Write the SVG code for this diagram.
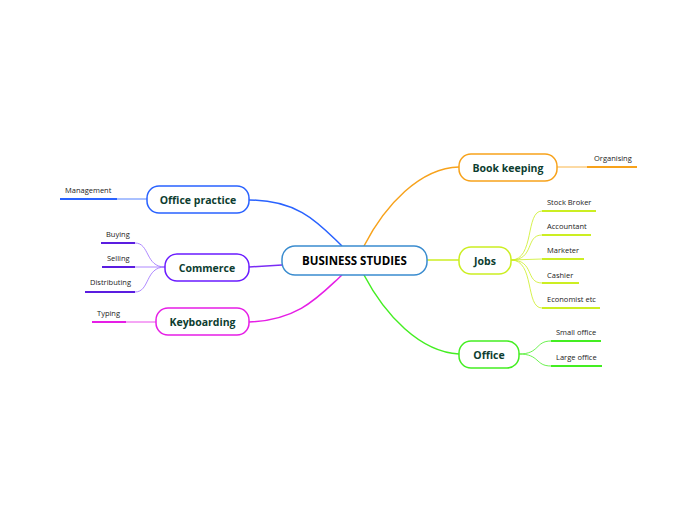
<svg xmlns="http://www.w3.org/2000/svg" width="697" height="520" viewBox="0 0 697 520">
<style>
.n{fill:#fff;stroke-width:1.5}
.t{font-family:"Open Sans","Noto Sans",sans-serif;font-weight:bold;font-size:10.5px;fill:#0d3d30;text-anchor:middle}
.l{font-family:"Open Sans","Noto Sans",sans-serif;font-size:7.5px;fill:#222}
.c{fill:none;stroke-width:1.5}
.s{fill:none;stroke-width:0.8}
.u{stroke-width:2}
</style>
<rect width="697" height="520" fill="#fff"/>
<g id="connectors">
<path class="c" stroke="#2962ff" d="M249 200 C300 200 320 225 342 246"/>
<path class="c" stroke="#7a2cf5" d="M249 267 L282 265"/>
<path class="c" stroke="#e61ee6" d="M249 322 C300 320 320 295 342 275"/>
<path class="c" stroke="#f7a21b" d="M364 246 C385 205 420 168 459 167"/>
<path class="c" stroke="#ccee22" d="M427 260 L459 260"/>
<path class="c" stroke="#44ee22" d="M364 275 C385 315 420 352 459 354"/>
<path class="s" stroke="#2962ff" d="M117 199 L147 199"/>
<path class="s" stroke="#9a6bff" d="M135 243 C150 243 145 267 165 267 M135 267 L165 267 M135 292 C150 292 145 267 165 267"/>
<path class="s" stroke="#e61ee6" d="M126 322 L156 322"/>
<path class="s" stroke="#f7a21b" d="M557 167 L587 167"/>
<path class="s" stroke="#ccee22" d="M511 260 C535 260 525 211 542 211 M511 260 C535 260 525 235 542 235 M511 260 L542 259 M511 260 C535 260 525 283 542 283 M511 260 C535 260 525 308 542 308"/>
<path class="s" stroke="#44ee22" d="M519 354 C540 354 535 341 551 341 M519 354 C540 354 535 366 551 366"/>
<path class="u" stroke="#2962ff" d="M60 199 H117"/>
<path class="u" stroke="#5b1de0" d="M101 243 H135 M102 267 H135 M85 292 H135"/>
<path class="u" stroke="#e61ee6" d="M92 322 H126"/>
<path class="u" stroke="#f7a21b" d="M587 167 H637"/>
<path class="u" stroke="#ccee22" d="M542 211 H596 M542 235 H591 M542 259 H584 M542 283 H579 M542 308 H600"/>
<path class="u" stroke="#44ee22" d="M551 341 H601 M551 366 H602"/>
</g>
<g id="center"><rect class="n" stroke="#3a8ccf" x="282" y="246" width="145" height="29" rx="13"/><text class="t" style="fill:#000;font-size:11.5px" x="354.5" y="265">BUSINESS STUDIES</text></g>
<g id="officepractice"><rect class="n" stroke="#2962ff" x="147" y="186" width="102" height="27" rx="12"/><text class="t" x="198" y="203.5">Office practice</text></g>
<g id="commerce"><rect class="n" stroke="#6a1bff" x="165" y="254" width="84" height="27" rx="12"/><text class="t" x="207" y="271.5">Commerce</text></g>
<g id="keyboarding"><rect class="n" stroke="#e61ee6" x="156" y="308" width="93" height="27" rx="12"/><text class="t" x="202.5" y="325.5">Keyboarding</text></g>
<g id="bookkeeping"><rect class="n" stroke="#f7a21b" x="459" y="154" width="98" height="27" rx="12"/><text class="t" x="508" y="171.5">Book keeping</text></g>
<g id="jobs"><rect class="n" stroke="#ccee22" x="459" y="247" width="52" height="27" rx="12"/><text class="t" x="485" y="264.5">Jobs</text></g>
<g id="office"><rect class="n" stroke="#44ee22" x="459" y="341" width="60" height="27" rx="12"/><text class="t" x="489" y="358.5">Office</text></g>
<g id="leaves">
<text class="l" x="65" y="193">Management</text>
<text class="l" x="106" y="237">Buying</text>
<text class="l" x="107" y="261">Selling</text>
<text class="l" x="90" y="285">Distributing</text>
<text class="l" x="97" y="316">Typing</text>
<text class="l" x="594" y="161">Organising</text>
<text class="l" x="547" y="205">Stock Broker</text>
<text class="l" x="547" y="229">Accountant</text>
<text class="l" x="547" y="253">Marketer</text>
<text class="l" x="547" y="278">Cashier</text>
<text class="l" x="547" y="302">Economist etc</text>
<text class="l" x="556" y="335">Small office</text>
<text class="l" x="556" y="360">Large office</text>
</g>
</svg>
